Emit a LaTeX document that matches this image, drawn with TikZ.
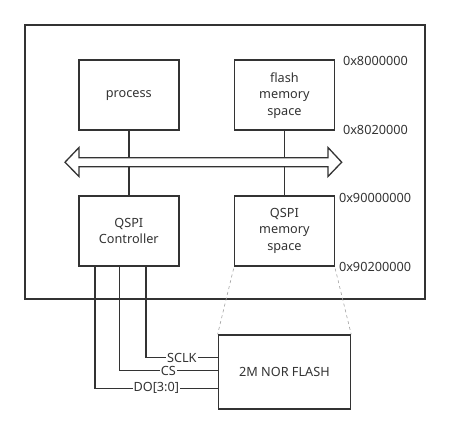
\documentclass[tikz,border=0pt]{standalone}
\usepackage{fontspec}
\setmainfont{Noto Sans}
\usetikzlibrary{positioning}
\definecolor{ink}{HTML}{333333}
\definecolor{guide}{HTML}{A0A0A0}

\begin{document}
\begin{tikzpicture}[x=1pt,y=-1pt,line width=1.6pt,draw=ink,text=ink,
    font=\fontsize{12.7}{16.5}\selectfont,
    blk/.style={rectangle,draw,minimum width=100pt,minimum height=70pt,align=center},
    addr/.style={anchor=west,inner sep=0pt},
    sig/.style={fill=white,inner sep=1pt,pos=0.75}]
    \useasboundingbox (0,0) rectangle (458,431);
    % chip outline
    \draw (24.7,24.7) rectangle (425,299);
    \node[blk] (proc) at (128.8,95.2) {process};
    \node[blk,right=54pt of proc] (flash) {flash\\memory\\space};
    \node[blk,below=64pt of proc] (ctrl) {QSPI\\Controller};
    \node[blk,below=64pt of flash] (qmem) {QSPI\\memory\\space};
    \node[rectangle,draw,minimum width=132pt,minimum height=74pt,below=67.7pt of qmem] (nor) {2M NOR FLASH};
    % address labels
    \node[addr] (a1) at ([shift={(7,1.4)}]flash.north east) {0x8000000};
    \node[addr] (a2) at ([shift={(7,-1)}]flash.south east) {0x8020000};
    \node[addr] (a3) at ([shift={(3,3)}]qmem.north east) {0x90000000};
    \node[addr] (a4) at ([shift={(3,0)}]qmem.south east) {0x90200000};
    % bus
    \coordinate (bustop) at (0,157.7);
    \coordinate (busbot) at (0,166.7);
    \draw[line width=1.3pt] (65,162.2) -- (79,147.5) -- (79,157.7) -- (328,157.7) -- (328,147.5)
      -- (341.7,162.2) -- (328,176.5) -- (328,166.7) -- (79,166.7) -- (79,176.5) -- cycle;
    \draw (proc.south) -- (proc.south |- bustop);
    \draw (flash.south) -- (flash.south |- bustop);
    \draw (ctrl.north) -- (ctrl.north |- busbot);
    \draw (qmem.north) -- (qmem.north |- busbot);
    % qspi signals
    \draw ([xshift=17.2pt]ctrl.south) |- ([yshift=14.5pt]nor.west) node[sig] (sclk) {SCLK};
    \draw ([xshift=-9.5pt]ctrl.south) |- ([yshift=1.5pt]nor.west) node[sig] (cs) {CS};
    \draw ([xshift=-33.8pt]ctrl.south) |- ([yshift=-16.2pt]nor.west) node[sig] (dq) {DO[3:0]};
    % zoom guides
    \draw[guide,line width=0.6pt,dash pattern=on 3pt off 3pt] ([yshift=-2pt]qmem.south west) -- (nor.north west);
    \draw[guide,line width=0.6pt,dash pattern=on 3pt off 3pt] ([yshift=-2pt]qmem.south east) -- (nor.north east);
\end{tikzpicture}
\end{document}
